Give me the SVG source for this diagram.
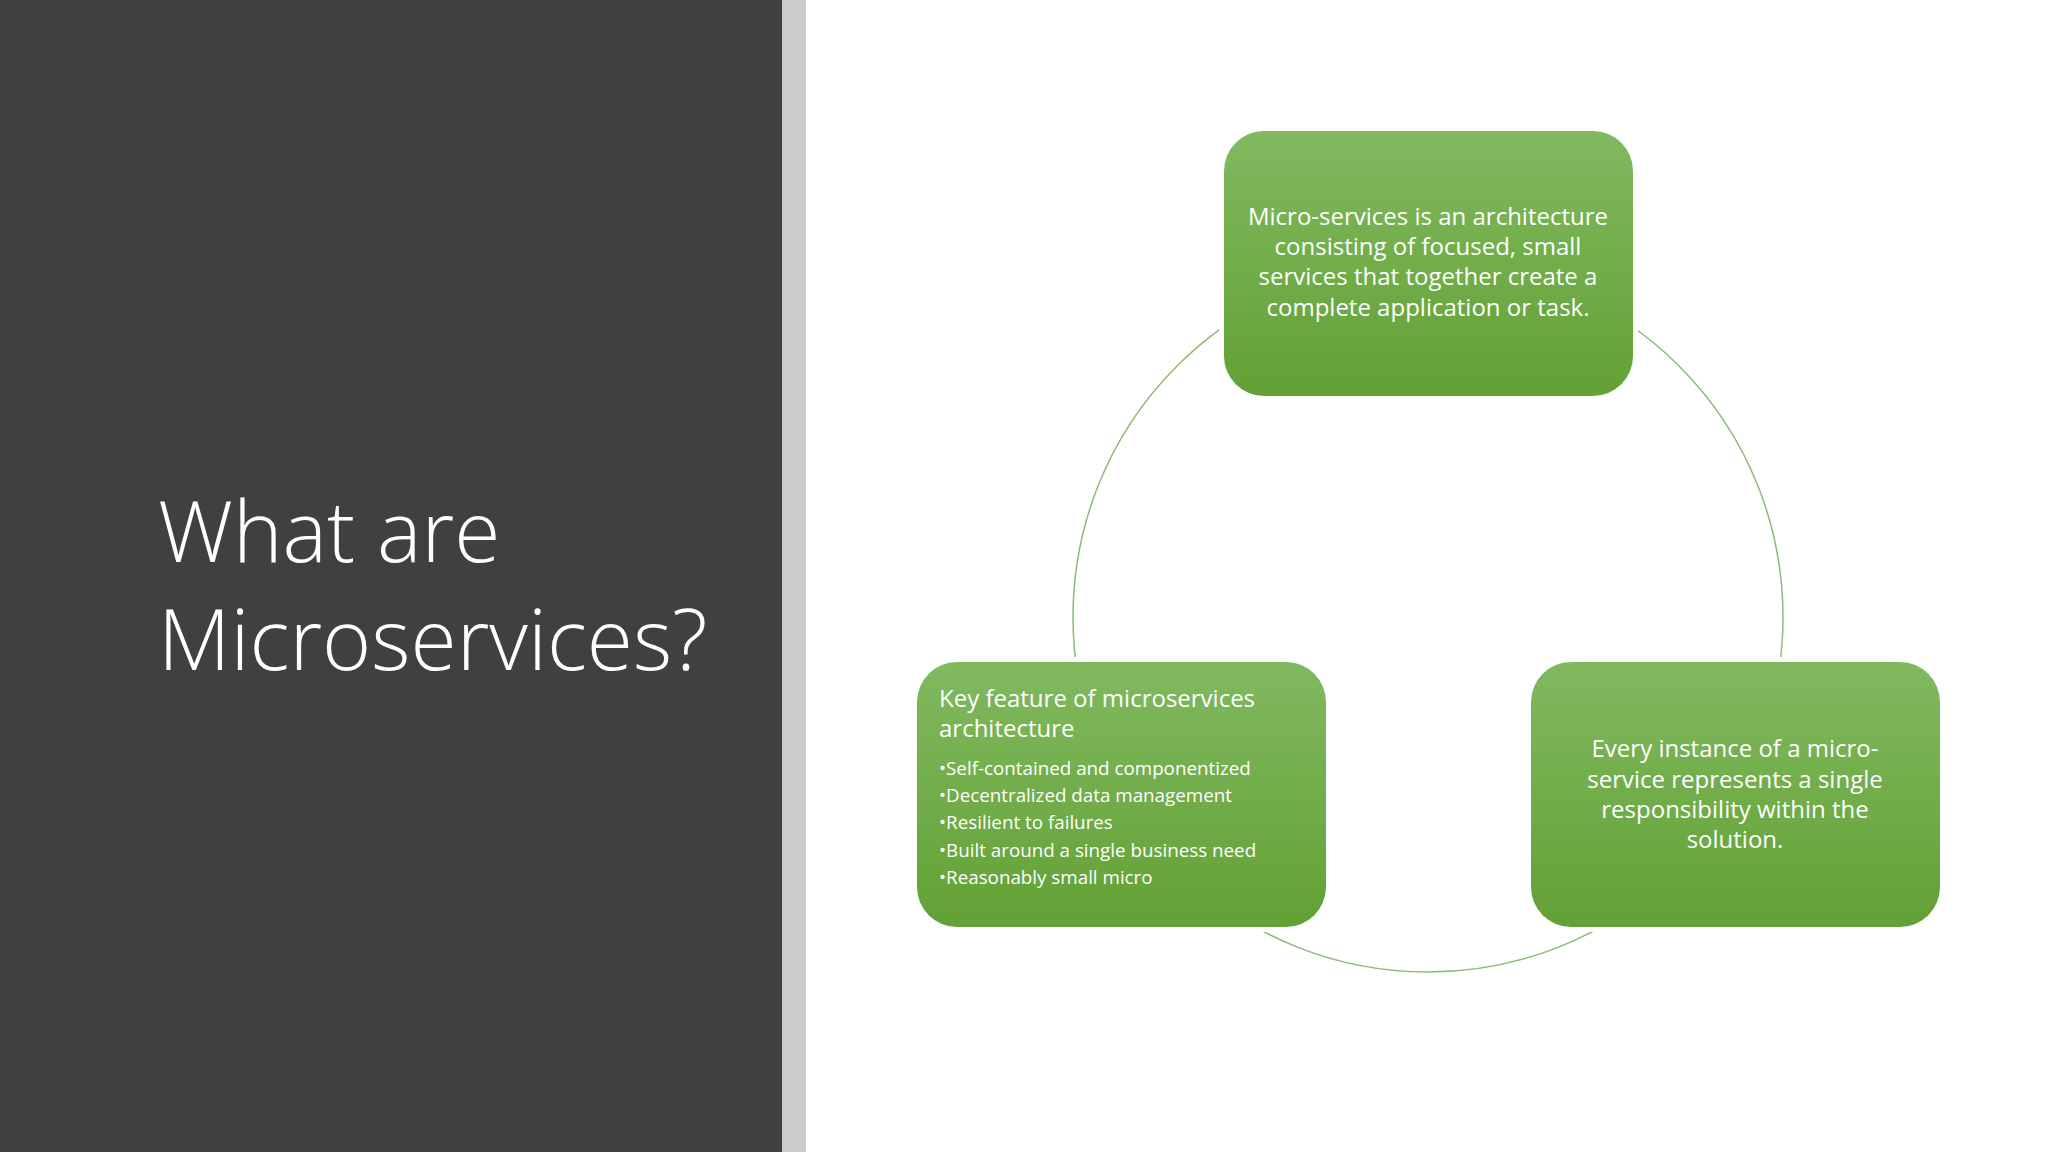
<svg xmlns="http://www.w3.org/2000/svg" width="2048" height="1152" viewBox="0 0 2048 1152">
<style>
.t{font-family:"Open Sans","Liberation Sans",sans-serif;fill:#fff}
.c{text-anchor:middle;font-size:24px}
.b{font-size:18.8px}
.n{fill:url(#g);stroke:#fff;stroke-width:10;paint-order:stroke}
</style>
<defs>
<linearGradient id="g" x1="0" y1="0" x2="0" y2="1"><stop offset="0" stop-color="#81b960"/><stop offset="1" stop-color="#62a134"/></linearGradient>
</defs>
<rect width="2048" height="1152" fill="#fff"/>
<rect width="782" height="1152" fill="#404040"/>
<rect x="782" width="24" height="1152" fill="#cbcbcb"/>
<text class="t" x="158" y="562" font-size="84" font-weight="300">What are</text>
<text class="t" x="158" y="670" font-size="84" font-weight="300">Microservices?</text>
<g id="connectors"><circle cx="1428" cy="617" r="355" fill="none" stroke="#8dbb78" stroke-width="1.5"/></g>
<g id="top"><rect class="n" x="1224" y="131" width="409" height="265" rx="40"/>
<text class="t c" x="1428" y="225">Micro-services is an architecture</text>
<text class="t c" x="1428" y="255">consisting of focused, small</text>
<text class="t c" x="1428" y="285">services that together create a</text>
<text class="t c" x="1428" y="316">complete application or task.</text></g>
<g id="left"><rect class="n" x="917" y="662" width="409" height="265" rx="40"/>
<text class="t" x="939" y="707" font-size="24">Key feature of microservices</text>
<text class="t" x="939" y="737" font-size="24">architecture</text>
<text class="t b" x="939" y="775">•Self-contained and componentized</text>
<text class="t b" x="939" y="802">•Decentralized data management</text>
<text class="t b" x="939" y="829">•Resilient to failures</text>
<text class="t b" x="939" y="857">•Built around a single business need</text>
<text class="t b" x="939" y="884">•Reasonably small micro</text></g>
<g id="right"><rect class="n" x="1531" y="662" width="409" height="265" rx="40"/>
<text class="t c" x="1735" y="757">Every instance of a micro-</text>
<text class="t c" x="1735" y="788">service represents a single</text>
<text class="t c" x="1735" y="818">responsibility within the</text>
<text class="t c" x="1735" y="848">solution.</text></g>
</svg>
